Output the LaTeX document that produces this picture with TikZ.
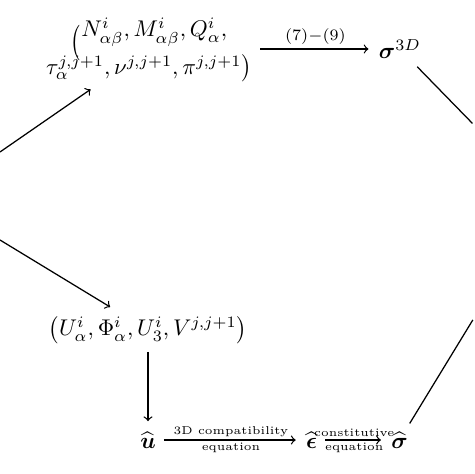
\documentclass[tikz,border=0pt]{standalone}
\usepackage{amsmath,amssymb}
\usetikzlibrary{positioning}

\begin{document}
\begin{tikzpicture}[x=0.44pt,y=-0.44pt,line width=0.55pt,shorten >=1pt,node distance=2cm,on grid,auto]
		\useasboundingbox (0,0) rectangle (474,474);
		\tikzset{lbl/.style={inner sep=1pt,font=\tiny}}
		\node[align=center]	(res) at (149,49)	{$\mathopen{\smash{\lower6pt\hbox{\scalebox{1}[1.3]{$\big($}}}}N^i_{\alpha\beta}, M^i_{\alpha\beta}, Q^i_\alpha,$\\[3pt]$\tau^{j,j+1}_\alpha, \nu^{j,j+1}, \pi^{j,j+1}\smash{\big)}$};
		\node	(sig_3D)	[right=110.4pt of res]	{$\boldsymbol{\sigma}^{3D}$};
		\node	(disp) at (148,330)	{$\big(U^i_\alpha, \Phi^i_\alpha, U^i_3, V^{j,j+1}\big)$};
		\node	(u_hat)	[below=48.4pt of disp]	{$\widehat{\boldsymbol{u}}$};
		\node	(eps_hat)	[right=72pt of u_hat]	{$\widehat{\boldsymbol{\epsilon}}$};
		\node	(sig_hat)	[right=38.7pt of eps_hat]	{$\widehat{\boldsymbol{\sigma}}$};
		% free ends at the picture edges
		\coordinate	(in_a) at (0,152);
		\coordinate	(in_b) at (0,240);
		\coordinate	(out_a) at (474,125);
		\coordinate	(out_b) at (474,318);
		\path[->]
			(in_a)	edge	(res)
			(in_b)	edge	(disp)
			(res)	edge	node[inner sep=1.5pt,font=\scriptsize]	{$(7){-}(9)$}	(sig_3D)
			(disp)	edge	(u_hat)
			(u_hat)	edge	node[lbl,above]	{3D compatibility}	node[lbl,below]	{equation}	(eps_hat)
			(eps_hat)	edge	node[lbl,above]	{constitutive}	node[lbl,below]	{equation}	(sig_hat);
		\path
			(sig_3D)	edge	(out_a)
			(sig_hat)	edge	(out_b);
	\end{tikzpicture}
\end{document}
